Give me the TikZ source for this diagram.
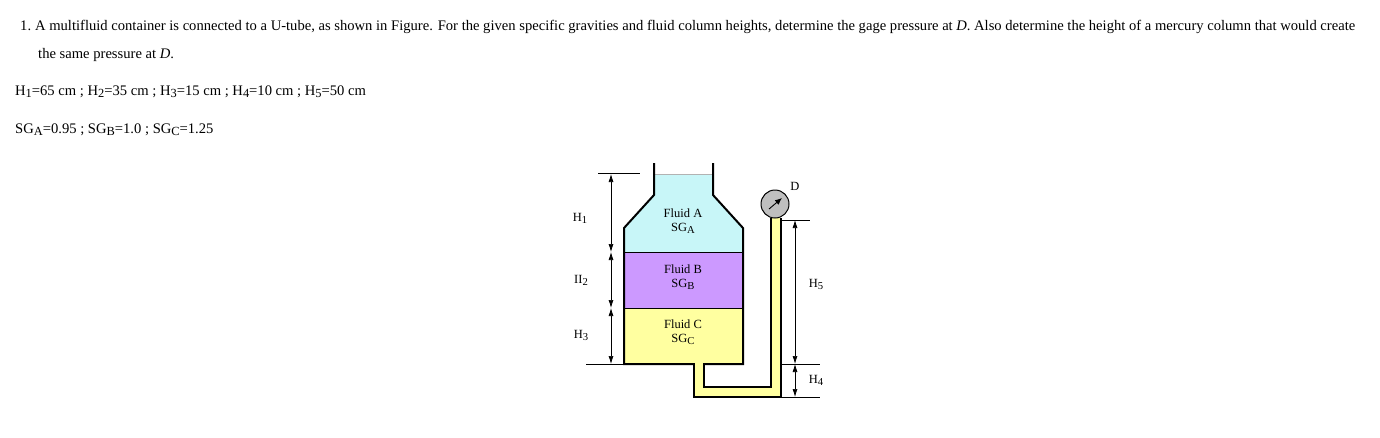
\documentclass[tikz,border=0pt]{standalone}
\usepackage{fontspec}
\setmainfont{Liberation Serif}
\usetikzlibrary{arrows.meta}
\definecolor{fa}{HTML}{C8F6F8}
\definecolor{fb}{HTML}{CC99FF}
\definecolor{fc}{HTML}{FFFFA0}
\newcommand{\lsub}[1]{\raisebox{-0.35ex}{\scalebox{0.85}{#1}}}
\tikzset{txt/.style={anchor=west,inner sep=0pt,font=\fontsize{14.6}{17}\selectfont},
lab/.style={inner sep=0pt,font=\fontsize{12.5}{14}\selectfont},
tip/.tip={Latex[length=8pt,width=5pt]},
dim/.style={line width=0.7pt,tip-tip},
thin/.style={line width=0.6pt},
wall/.style={line width=2pt}}
\begin{document}
\begin{tikzpicture}[x=1pt,y=-1pt]
\useasboundingbox (0,0) rectangle (1380,437);
\node[txt] (l1) at (20,27) {1.\hspace{4pt}A multifluid container is connected to a U-tube, as shown in Figure. For the given specific gravities and fluid column heights, determine the gage pressure at \textit{D}. Also determine the height of a mercury column that would create};
\node[txt] (l2) at (38,55) {the same pressure at \textit{D}.};
\node[txt] (l3) at (15,92) {H\lsub{1}=65 cm ; H\lsub{2}=35 cm ; H\lsub{3}=15 cm ; H\lsub{4}=10 cm ; H\lsub{5}=50 cm};
\node[txt] (l4) at (15,130) {SG\lsub{A}=0.95 ; SG\lsub{B}=1.0 ; SG\lsub{C}=1.25};
% fluids
\fill[fa] (654,174) -- (713,174) -- (713,195) -- (743,228) -- (743,252) -- (624,252) -- (624,228) -- (654,195) -- cycle;
\fill[fb] (624,252) rectangle (743,308);
\fill[fc] (624,308) rectangle (743,364);
\draw[thin,gray!60] (654,174) -- (713,174);
\draw[thin] (624,252) -- (743,252) (624,308) -- (743,308);
% U tube
\draw[line width=12pt] (698.5,365) -- (698.5,392) -- (776,392) -- (776,218);
\draw[fc,line width=8pt] (698.5,362) -- (698.5,392) -- (776,392) -- (776,218);
\draw[wall] (654,163) -- (654,195) -- (624,228) -- (624,364) -- (743,364) -- (743,228) -- (713,195) -- (713,163);
\fill[fc] (694.5,363) rectangle (702.5,366);
% gauge
\node[circle,draw,line width=1pt,fill=gray!50,minimum size=28pt,inner sep=0pt] (g) at (775,204) {};
\draw[line width=0.9pt,-{Latex[length=7pt,width=6pt]}] (769,209) -- (782,198);
\node[lab] (d) at (795,186) {D};
% dimension lines
\draw[thin] (598,173) -- (640,173) (586,364) -- (624,364) (781,220) -- (810,220) (781,364) -- (820,364) (781,397) -- (820,397);
\draw[dim] (611,174) -- (611,252);
\draw[dim] (611,252) -- (611,308);
\draw[dim] (611,308) -- (611,364);
\draw[dim] (795,220) -- (795,364);
\draw[dim] (795,364) -- (795,397);
\node[lab] (h1) at (580,218) {H\lsub{1}};
\node[lab] (h2) at (581,280) {II\lsub{2}};
\node[lab] (h3) at (581,335) {H\lsub{3}};
\node[lab] (h5) at (816,284) {H\lsub{5}};
\node[lab] (h4) at (816,380) {H\lsub{4}};
\node[lab,align=center] (ta) at (683,221) {Fluid A\\SG\lsub{A}};
\node[lab,align=center] (tb) at (683,277) {Fluid B\\SG\lsub{B}};
\node[lab,align=center] (tc) at (683,332) {Fluid C\\SG\lsub{C}};
\end{tikzpicture}
\end{document}
